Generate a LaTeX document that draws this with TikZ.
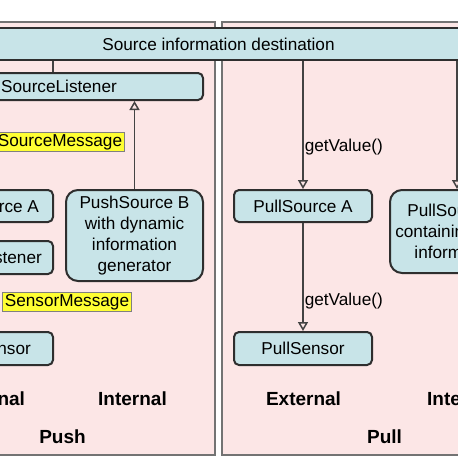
\documentclass[tikz,border=0pt]{standalone}
\usepackage{fontspec}
\setmainfont{Liberation Sans}
\usetikzlibrary{arrows.meta,calc}
\definecolor{panelpink}{HTML}{FCE6E6}
\definecolor{boxblue}{HTML}{C8E4E8}
\definecolor{msgyellow}{HTML}{FFFF33}
\definecolor{edge}{HTML}{2E2E2E}

\begin{document}
\begin{tikzpicture}[x=1pt,y=-1pt,
  panel/.style={draw=black!55,line width=1.5pt,fill=panelpink},
  box/.style={draw=edge,line width=2pt,fill=boxblue,rounded corners=5pt,inner sep=0pt,
    font=\fontsize{17.2}{21}\selectfont,align=center},
  msg/.style={draw=black!50,line width=1pt,fill=msgyellow,inner sep=2pt,
    font=\fontsize{17.2}{21}\selectfont},
  side/.style={font=\fontsize{19}{23}\selectfont\bfseries},
  link/.style={draw=edge!90,line width=1.5pt},
  arr/.style={link,-{Triangle[open,width=10pt,length=9pt]}},
  lbl/.style={font=\fontsize{17.2}{21}\selectfont,inner sep=1pt}]
\useasboundingbox (0,0) rectangle (458,458);
\clip (0,0) rectangle (458,458);
% the two panels
\draw [panel] (-100,22) rectangle (215,455);
\draw [panel] (222,22) rectangle (537,455);
% destination bar across both
\node [box,rounded corners=0pt,line width=1.5pt,minimum width=800,minimum height=32] (bar) at (218.5,44) {Source information destination};

% push side
\node [box,minimum width=288,minimum height=27] (listener) at (59,86.5) {SourceListener};
\node [msg] (srcmsg) at (60,142) {SourceMessage};
\node [box,minimum width=138,minimum height=32] (pushA) at (-16,206) {PushSource A};
\node [box,rounded corners=12pt,minimum width=137,minimum height=91] (pushB) at (134.5,235.5) {PushSource B\\with dynamic\\information\\generator};
\node [box,minimum width=138,minimum height=33] (senslist) at (-16,257.5) {SensorListener};
\node [msg] (sensmsg) at (67,302) {SensorMessage};
\node [box,minimum width=138,minimum height=33] (pushsensor) at (-16,348.5) {PushSensor};
\coordinate (tap) at ($(listener.north)+(-6,0)$);
\draw [link] (tap) -- (tap |- bar.south);
\draw [arr] (pushB.north) -- (pushB.north |- listener.south);
\node [side] (extpush) at (-12.5,399) {External};
\node [side] (intpush) at (132.5,399) {Internal};
\node [side] (push) at (62.5,437) {Push};

% pull side
\node [box,minimum width=138,minimum height=32] (pullA) at (303,206) {PullSource A};
\node [box,rounded corners=12pt,minimum width=134,minimum height=83] (pullB) at (457,231.5) {PullSource B\\containing static\\information};
\node [box,minimum width=138,minimum height=33] (pullsensor) at (303,348.5) {PullSensor};
\draw [arr] (bar.south -| pullA.north) -- node [lbl,right,pos=0.67] {getValue()} (pullA.north);
\draw [arr] (pullA) -- node [lbl,right,pos=0.72] {getValue()} (pullsensor);
\draw [arr] (bar.south -| pullB.north) -- (pullB.north);
\node [side] (extpull) at (303.5,399) {External};
\node [side] (intpull) at (461.5,399) {Internal};
\node [side] (pull) at (384.5,437) {Pull};
\end{tikzpicture}
\end{document}
